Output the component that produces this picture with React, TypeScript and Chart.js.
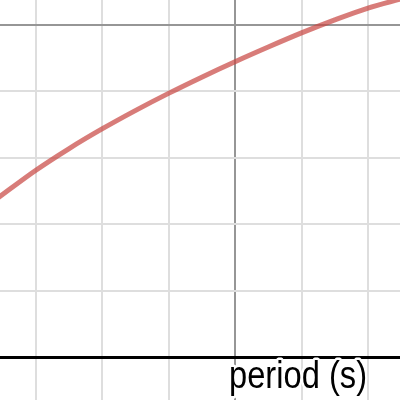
import React, { useEffect, useRef } from "react";
import { Chart, registerables } from "chart.js";

Chart.register(...registerables);

// Data (grid units)
const periodX: number[] = [-3.6, -3, -2.5, -2, -1.5, -1, -0.5, 0, 0.5, 1, 1.5, 2, 2.5];
const valueY: number[] = [-2.63, -2.19, -1.864, -1.566, -1.29, -1.031, -0.787, -0.555, -0.334, -0.122, 0.074, 0.252, 0.39];
const axisLabel = "period (s)";
const baselineY = -5;

const X_MIN = -3.534;
const X_MAX = 2.481;
const Y_MIN = -5.642;
const Y_MAX = 0.373;

export default function App() {
  const ref = useRef<HTMLCanvasElement | null>(null);

  useEffect(() => {
    if (!ref.current) return;
    const labelPlugin = {
      id: "periodLabel",
      afterDraw(chart: any) {
        const ctx = chart.ctx as CanvasRenderingContext2D;
        const xs = chart.scales.x;
        const ys = chart.scales.y;
        const px = xs.getPixelForValue(0) - 6;
        const py = ys.getPixelForValue(baselineY) + 31;
        ctx.save();
        ctx.font = '38px "Liberation Sans Narrow", "Liberation Sans", Arial, sans-serif';
        ctx.textBaseline = "alphabetic";
        ctx.textAlign = "left";
        const w = ctx.measureText(axisLabel).width;
        const sx = 138 / w;
        ctx.translate(px, py);
        ctx.scale(sx, 1);
        ctx.lineJoin = "round";
        ctx.strokeStyle = "#ffffff";
        ctx.lineWidth = 5;
        ctx.strokeText(axisLabel, 0, 0);
        ctx.fillStyle = "#000000";
        ctx.fillText(axisLabel, 0, 0);
        ctx.restore();
      },
    };

    const chart = new Chart(ref.current, {
      type: "line",
      data: {
        datasets: [
          {
            data: periodX.map((x, i) => ({ x, y: valueY[i] })),
            borderColor: "rgba(199,68,64,0.7)",
            borderWidth: 5,
            pointRadius: 0,
            cubicInterpolationMode: "monotone",
            fill: false,
          },
        ],
      },
      options: {
        animation: false,
        responsive: false,
        devicePixelRatio: 1,
        layout: { padding: 0 },
        plugins: { legend: { display: false }, tooltip: { enabled: false } },
        scales: {
          x: {
            type: "linear",
            min: X_MIN,
            max: X_MAX,
            border: { display: false },
            ticks: { display: false, stepSize: 1, includeBounds: false },
            grid: {
              drawTicks: false,
              color: (c: any) => (c.tick && c.tick.value === 0 ? "rgb(150,150,150)" : "rgb(222,222,222)"),
              lineWidth: 2,
            },
          },
          y: {
            type: "linear",
            min: Y_MIN,
            max: Y_MAX,
            border: { display: false },
            ticks: { display: false, stepSize: 1, includeBounds: false },
            grid: {
              drawTicks: false,
              color: (c: any) => {
                const v = c.tick ? c.tick.value : NaN;
                if (v === baselineY) return "#000000";
                if (v === 0) return "rgb(150,150,150)";
                return "rgb(222,222,222)";
              },
              lineWidth: (c: any) => (c.tick && c.tick.value === baselineY ? 3 : 2),
            },
          },
        },
      },
      plugins: [labelPlugin],
    });
    return () => chart.destroy();
  }, []);

  return (
    <div style={{ position: "fixed", left: 0, top: 0, width: 400, height: 400, background: "#fff" }}>
      <canvas ref={ref} width={400} height={400} style={{ display: "block" }} />
    </div>
  );
}
